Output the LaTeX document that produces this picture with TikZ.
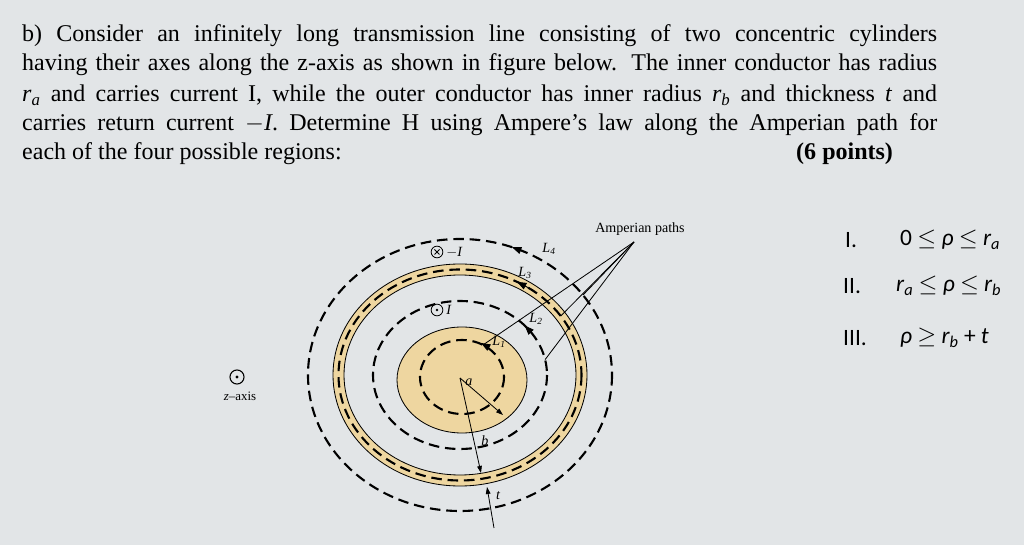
\documentclass[tikz,border=0pt]{standalone}
\usepackage{fontspec}
\setmainfont{Liberation Serif}
\newfontfamily\calib{Carlito}
\usetikzlibrary{arrows.meta,calc}
\definecolor{bg}{RGB}{226,229,231}
\definecolor{tan}{RGB}{238,214,160}
\tikzset{
  txt/.style={anchor=west,inner sep=0pt,font=\fontsize{20.5}{22}\selectfont},
  path/.style={draw,line width=1.8pt,dash pattern=on 9pt off 5pt},
  small/.style={font=\fontsize{12}{14}\selectfont\itshape,inner sep=1pt},
  reg/.style={anchor=west,inner sep=0pt,font=\calib\fontsize{20}{22}\selectfont},
  ptr/.style={draw,line width=0.7pt},
  tip/.style={-{Triangle[length=8pt,width=6pt]},line width=0.8pt},
}
\newcommand{\spreadline}[2]{\makebox[#1pt][s]{#2}}
\begin{document}
\begin{tikzpicture}[x=0.03cm,y=-0.03cm]
\fill[bg] (0,0) rectangle (1024,545);
\useasboundingbox (0,0) rectangle (1024,545);
% text
\node[txt] (t1) at (22,36) {\spreadline{781}{b) Consider an infinitely long transmission line consisting of two concentric cylinders}};
\node[txt] (t2) at (22,65) {\spreadline{781}{having their axes along the z-axis as shown in figure below. The inner conductor has radius}};
\node[txt] (t3) at (22,95) {\spreadline{781}{\textit{r\textsubscript{a}} and carries current I, while the outer conductor has inner radius \textit{r\textsubscript{b}} and thickness \textit{t} and}};
\node[txt] (t4) at (22,125) {\spreadline{781}{carries return current $-$\textit{I}. Determine H using Ampere's law along the Amperian path for}};
\node[txt] (t5) at (22,154) {each of the four possible regions:};
\node[txt] (t6) at (796,154) {\textbf{(6 points)}};
% regions
\node[reg] (r1) at (845,240) {I.};
\node[reg] (r1b) at (900,240) {0 $\leq$ \textit{ρ} $\leq$ \textit{r\textsubscript{a}}};
\node[reg] (r2) at (843,286) {II.};
\node[reg] (r2b) at (896,286) {\textit{r\textsubscript{a}} $\leq$ \textit{ρ} $\leq$ \textit{r\textsubscript{b}}};
\node[reg] (r3) at (843,338) {III.};
\node[reg] (r3b) at (900,338) {\textit{ρ} $\geq$ \textit{r\textsubscript{b}} + \textit{t}};
% z-axis
\node[circle,draw,line width=0.9pt,inner sep=0pt,minimum size=12pt] (z) at (237,377) {};
\fill (z) circle (1.4pt);
\node[inner sep=0pt,font=\fontsize{11}{12}\selectfont] (zl) at (240,396) {\textit{z}--axis};
% geometry
\coordinate (c) at (460,375);
\fill[tan,even odd rule] (c) ellipse [x radius=127,y radius=111] (c) ellipse [x radius=116,y radius=100];
\draw[line width=0.7pt] (c) ellipse [x radius=127,y radius=111];
\draw[line width=0.7pt] (c) ellipse [x radius=116,y radius=100];
\fill[tan,draw=black,line width=0.7pt] ($(c)+(2,5)$) ellipse [x radius=65,y radius=53];
\path[path] ($(c)+(2,2)$) ellipse [x radius=42,y radius=37];
\path[path] (c) ellipse [x radius=87,y radius=74];
\path[path] (c) ellipse [x radius=121.5,y radius=105.5];
\path[path] (c) ellipse [x radius=152,y radius=136];
% arrowheads on paths
\foreach \rx/\ry/\a in {42/37/60,87/74/42,121.5/105.5/62,152/136/70}{
  \draw[tip] ($(c)+({\rx*cos(\a-6)},{-\ry*sin(\a-6)})$) -- ($(c)+({\rx*cos(\a)},{-\ry*sin(\a)})$);
}
% labels
\node[small] (l1) at (499,342) {L\textsubscript{1}};
\node[small] (l2) at (536,319) {L\textsubscript{2}};
\node[small] (l3) at (525,273) {L\textsubscript{3}};
\node[small] (l4) at (549,249) {L\textsubscript{4}};
\node[small,font=\fontsize{12}{14}\selectfont] (ap) at (640,229) {Amperian paths};
\coordinate (apx) at (634,242);
\draw[ptr] (apx) -- ($(c)+(2,2)+({42*cos(60)},{-37*sin(60)})$);
\draw[ptr] (apx) -- ($(c)+({87*cos(12)},{-74*sin(12)})$);
\draw[ptr] (apx) -- ($(c)+({121.5*cos(34)},{-105.5*sin(34)})$);
\draw[ptr] (apx) -- ($(c)+({152*cos(36)},{-136*sin(36)})$);
% currents
\node[circle,draw,inner sep=0pt,minimum size=10pt,line width=0.7pt] (o1) at (437,252) {};
\draw[line width=0.7pt] ($(o1)+(-2.5,-2.5)$) -- ($(o1)+(2.5,2.5)$) ($(o1)+(-2.5,2.5)$) -- ($(o1)+(2.5,-2.5)$);
\node[small,anchor=west] (o1l) at (445,252) {$-$\textit{I}};
\node[circle,draw,inner sep=0pt,minimum size=10pt,line width=0.7pt] (o2) at (437,310) {};
\fill (o2) circle (1.1pt);
\node[small,anchor=west] (o2l) at (445,310) {I};
% radii
\coordinate (ctr) at (460,378);
\coordinate (ea) at (503,415);
\coordinate (eb) at (481,473);
\coordinate (et) at (487,487);
\coordinate (tb) at (494,528);
\draw[ptr,-{Triangle[length=6pt,width=4pt]}] (ctr) -- (ea);
\draw[ptr,-{Triangle[length=6pt,width=4pt]}] (ctr) -- (eb);
\draw[ptr,-{Triangle[length=6pt,width=4pt]}] (tb) -- (et);
\node[small] (ra) at (469,382) {a};
\node[small] (rb) at (485,441) {b};
\node[small] (rt) at (498,496) {t};
\end{tikzpicture}
\end{document}
